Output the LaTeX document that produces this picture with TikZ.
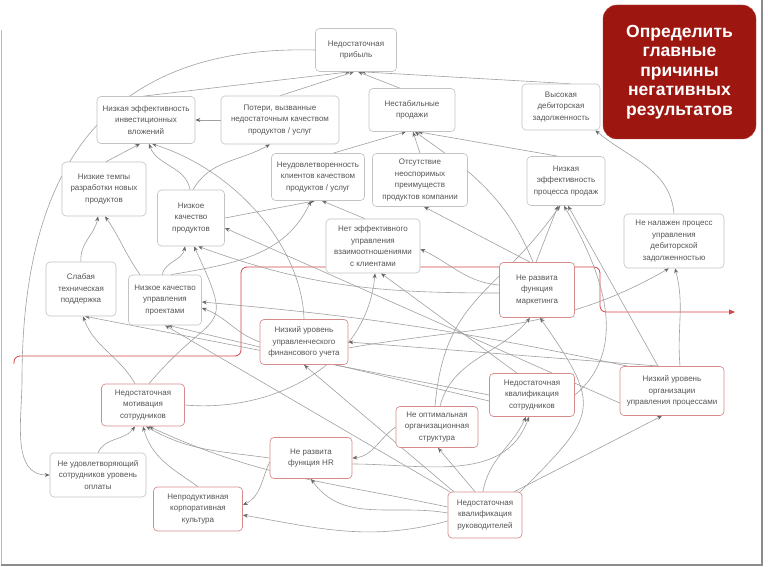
\documentclass[tikz,border=0pt]{standalone}
\usepackage{fontspec}
\setmainfont{Liberation Sans}
\usetikzlibrary{arrows.meta,calc}
\pgfdeclarelayer{back}
\pgfdeclarelayer{bg}
\pgfsetlayers{back,bg,main}
\definecolor{txt}{RGB}{85,85,85}
\definecolor{boxg}{RGB}{195,195,195}
\definecolor{boxr}{RGB}{215,140,140}
\definecolor{lineg}{RGB}{160,160,160}
\definecolor{arrg}{RGB}{105,105,105}
\definecolor{redl}{RGB}{210,70,70}
\definecolor{titlered}{RGB}{158,22,16}
\definecolor{frameg}{RGB}{140,140,140}
\begin{document}
\begin{tikzpicture}[x=1pt,y=1pt,
  box/.style={draw=boxg, line width=0.6pt, rounded corners=4pt, fill=white, align=center,
    text=txt, font=\fontsize{8}{11.5}\selectfont, inner sep=0pt},
  rbox/.style={box, draw=boxr, line width=0.7pt},
  conn/.style={draw=lineg, line width=0.6pt, -{Stealth[length=5pt,width=4pt,color=arrg]}},
  redline/.style={draw=redl, line width=0.8pt, rounded corners=6pt, -{Triangle[length=6pt,width=5pt]}},
  framel/.style={draw=frameg, line width=1.6pt}]
\useasboundingbox (0,0) rectangle (768,-567);
\begin{pgfonlayer}{back}
\fill[white] (0,0) rectangle (768,-567);
\end{pgfonlayer}
\coordinate (fa) at (1,-30);
\coordinate (fb) at (1,-565);
\coordinate (fc) at (762,-565);
\coordinate (fd) at (762,0);
\draw[framel, line width=0.6pt, draw=frameg!60] (fa) -- (fb);
\draw[framel] (fb) -- (fc) -- (fd);

% nodes
\node[box, minimum width=81pt, minimum height=43pt] (n1) at (356,-50) {Недостаточная\\прибыль};
\node[box, minimum width=98pt, minimum height=47pt] (n2) at (146,-120) {Низкая эффективность\\инвестиционных\\вложений};
\node[box, minimum width=118pt, minimum height=48pt] (n3) at (280,-120) {Потери, вызванные\\недостаточным качеством\\продуктов / услуг};
\node[box, minimum width=86pt, minimum height=43pt] (n4) at (412,-110) {Нестабильные\\продажи};
\node[box, minimum width=78pt, minimum height=46pt] (n5) at (561,-107) {Высокая\\дебиторская\\задолженность};
\node[fill=titlered, draw=titlered!80!white, rounded corners=14pt, minimum width=153pt, minimum height=134pt,
  text=white, font=\bfseries\fontsize{17.5}{19.5}\selectfont, align=center, inner sep=0pt] (title) at (679.5,-72)
  {Определить\\главные\\причины\\негативных\\результатов};
\node[box, minimum width=84pt, minimum height=54pt] (n7) at (104,-189) {Низкие темпы\\разработки новых\\продуктов};
\node[box, minimum width=67pt, minimum height=56pt] (n8) at (191,-218) {Низкое\\качество\\продуктов};
\node[box, minimum width=93pt, minimum height=47pt] (n9) at (318,-177) {Неудовлетворенность\\клиентов качеством\\продуктов / услуг};
\node[box, minimum width=95pt, minimum height=53pt] (n10) at (420,-180) {Отсутствие\\неоспоримых\\преимуществ\\продуктов компании};
\node[box, minimum width=78pt, minimum height=49pt] (n11) at (566,-181) {Низкая\\эффективность\\процесса продаж};
\node[box, minimum width=100pt, minimum height=54pt] (n12) at (674,-241) {Не налажен процесс\\управления\\дебиторской\\задолженностью};
\node[box, minimum width=94pt, minimum height=54pt] (n13) at (373,-246) {Нет эффективного\\управления\\взаимоотношениями\\с клиентами};
\node[box, minimum width=70pt, minimum height=54pt] (n14) at (81,-289) {Слабая\\техническая\\поддержка};
\node[box, minimum width=73pt, minimum height=50pt] (n15) at (165,-300) {Низкое качество\\управления\\проектами};
\node[rbox, minimum width=88pt, minimum height=45pt] (n16) at (304,-342) {Низкий уровень\\управленческого\\финансового учета};
\node[rbox, minimum width=75pt, minimum height=55pt] (n17) at (537,-290) {Не развита\\функция\\маркетинга};
\node[rbox, minimum width=83pt, minimum height=42pt] (n18) at (143,-405) {Недостаточная\\мотивация\\сотрудников};
\node[rbox, minimum width=85pt, minimum height=43pt] (n19) at (532,-395) {Недостаточная\\квалификация\\сотрудников};
\node[rbox, minimum width=104pt, minimum height=49pt] (n20) at (672,-391) {Низкий уровень\\организации\\управления процессами};
\node[rbox, minimum width=82pt, minimum height=41pt] (n21) at (437,-427) {Не оптимальная\\организационная\\структура};
\node[rbox, minimum width=82pt, minimum height=41pt] (n22) at (311,-458) {Не развита\\функция HR};
\node[box, minimum width=96pt, minimum height=44pt] (n23) at (98,-475) {Не удовлетворяющий\\сотрудников уровень\\оплаты};
\node[rbox, minimum width=89pt, minimum height=44pt] (n24) at (198,-509) {Непродуктивная\\корпоративная\\культура};
\node[rbox, minimum width=74pt, minimum height=46pt] (n25) at (485,-515) {Недостаточная\\квалификация\\руководителей};

\begin{pgfonlayer}{bg}
% red boundary line
\coordinate (rs) at (14,-364);
\coordinate (r1) at (14,-356);
\coordinate (r2) at (241,-356);
\coordinate (r3) at (241,-267);
\coordinate (r4) at (600,-267);
\coordinate (r5) at (600,-312);
\coordinate (re) at (735,-312);
\draw[redline] (rs) -- (r1) -- (r2) -- (r3) -- (r4) -- (r5) -- (re);

% connectors into n1
\draw[conn] ($(n2.north)+(-3,0)$) -- ($(n1.south)+(-6,0)$);
\draw[conn] (n3.north) -- ($(n1.south)+(-2,0)$);
\draw[conn] ($(n4.north)+(-12,0)$) -- ($(n1.south)+(2,0)$);
\draw[conn] ($(n5.north)+(9,0)$) -- ($(n1.south)+(5,0)$);
% into n2
\draw[conn] (n3.west) -- (n2.east);
\draw[conn] ($(n7.north)+(2,0)$) -- ($(n2.south)+(-6,0)$);
\draw[conn] ($(n8.north)+(-1,0)$) to[out=100,in=-70] ($(n2.south)+(3,0)$);
\draw[conn] (n16.north) .. controls (302,-250) and (240,-172) .. ($(n2.south)+(6,0)$);
% into n3
\draw[conn] ($(n8.north)+(2,0)$) to[out=60,in=-150] ($(n3.south)+(-10,0)$);
% into n4
\draw[conn] ($(n9.north)+(15,0)$) -- ($(n4.south)+(-6,0)$);
\draw[conn] (n10.north) -- ($(n4.south)+(1,0)$);
\draw[conn] ($(n11.north)+(-8,0)$) -- ($(n4.south)+(6,0)$);
\draw[conn] ($(n17.north)+(-4,0)$) to[out=112,in=-35] ($(n4.south)+(3,0)$);
% into n5
\draw[conn] (n12.north) to[out=95,in=-40] ($(n5.south east)+(-5,0)$);
% into n7
\draw[conn] (n14.north) to[out=95,in=-100] ($(n7.south)+(-6,0)$);
\draw[conn] ($(n15.north)+(-25,0)$) to[out=125,in=-55] ($(n7.south)+(1,0)$);
% into n8
\draw[conn] ($(n15.north)+(-3,0)$) to[out=75,in=-100] ($(n8.south)+(-6,0)$);
\draw[conn] ($(n18.north)+(6,0)$) to[out=50,in=-65,looseness=1.8] ($(n8.south)+(3,0)$);
\draw[conn] ($(n17.west)+(0,-3)$) to[out=180,in=-20] ($(n8.south)+(7,0)$);
\draw[conn] ($(n20.west)+(0,-12)$) -- ($(n8.east)+(0,-10)$);
% into n9
\draw[conn] ($(n15.north)+(6,0)$) to[out=10,in=-115] ($(n9.south)+(-7,0)$);
\draw[conn] (n8.east) -- ($(n9.south)+(-3,0)$);
\draw[conn] ($(n13.north)+(-8,0)$) -- ($(n9.south)+(4,0)$);
% into n10, n11
\draw[conn] ($(n17.north)+(-7,0)$) -- ($(n10.south)+(4,0)$);
\draw[conn] ($(n17.north)+(-1,0)$) -- ($(n11.south)+(-8,0)$);
\draw[conn] (n19.east) to[out=40,in=-60] ($(n11.south)+(-2,0)$);
\draw[conn] ($(n21.north)+(-2,0)$) to[out=85,in=-125,looseness=1.2] ($(n11.south)+(-6,0)$);
\draw[conn] ($(n20.north)+(-14,0)$) -- ($(n11.south)+(2,0)$);
% into n12
\draw[conn] ($(n16.east)+(0,-6)$) to[out=10,in=-150] ($(n12.south)+(-5,0)$);
\draw[conn] ($(n20.north)+(8,0)$) to[out=95,in=-75] ($(n12.south)+(1,0)$);
% into n13
\draw[conn] ($(n17.west)+(0,5)$) to[out=175,in=-25] ($(n13.east)+(0,-3)$);
\draw[conn] ($(n19.north)+(-15,0)$) -- ($(n13.south)+(8,0)$);
\draw[conn] (n18.east) to[out=-5,in=-95] ($(n13.south)+(2,0)$);
% into n14
\draw[conn] ($(n18.north)+(-8,0)$) to[out=120,in=-70] ($(n14.south)+(2,0)$);
\draw[conn] (n19.west) -- ($(n14.south)+(4,0)$);
% into n15
\draw[conn] ($(n20.north west)+(8,0)$) to[out=168,in=-5] ($(n15.east)+(0,-2)$);
\draw[conn] (n16.west) to[out=160,in=-20] ($(n15.east)+(0,-8)$);
\draw[conn] ($(n19.west)+(0,-6)$) -- ($(n15.south)+(3,0)$);
\draw[conn] ($(n25.north west)+(2,0)$) -- (n15.south);
% into n16
\draw[conn] ($(n20.north west)+(40,0)$) -- (n16.east);
\draw[conn] ($(n25.north west)+(6,0)$) -- (n16.south);
% into n17
\draw[conn] ($(n21.north)+(3,0)$) to[out=75,in=-130] ($(n17.south)+(-7,0)$);
\draw[conn] ($(n25.north east)+(-2,0)$) to[out=45,in=-55,looseness=1.6] ($(n17.south)+(3,0)$);
% into n18
\draw[conn] (n23.north) to[out=65,in=-125] ($(n18.south)+(-8,0)$);
\draw[conn] (n24.north) to[out=145,in=-75] ($(n18.south)+(0,0)$);
\draw[conn] (n22.west) to[out=172,in=-30] ($(n18.south)+(3,0)$);
\draw[conn] ($(n25.west)+(0,8)$) to[out=168,in=-25] ($(n18.south)+(6,0)$);
% into n19, n20, n21
\draw[conn] ($(n25.north)+(-2,0)$) to[out=80,in=-115] ($(n19.south)+(-6,0)$);
\draw[conn] ($(n22.east)+(0,-6)$) to[out=0,in=-110] ($(n19.south)+(-3,0)$);
\draw[conn] ($(n25.north east)+(-8,0)$) -- ($(n20.south)+(-10,0)$);
\draw[conn] ($(n25.north)+(-10,0)$) -- ($(n21.south)+(1,0)$);
% into n22, n23, n24
\draw[conn] (n21.west) to[out=-145,in=5] (n22.east);
\draw[conn] ($(n25.west)+(0,2)$) to[out=170,in=-55] (n22.south);
\draw[conn] ($(n22.west)+(0,-4)$) to[out=-115,in=25] ($(n24.east)+(0,4)$);
\draw[conn] ($(n25.west)+(0,-6)$) to[out=195,in=-10] ($(n24.east)+(0,-6)$);
\draw[conn] (n1.west) .. controls (120,-45) and (22,-150) .. (22,-380) to[out=-90,in=180] (n23.west);
\end{pgfonlayer}
\end{tikzpicture}
\end{document}
